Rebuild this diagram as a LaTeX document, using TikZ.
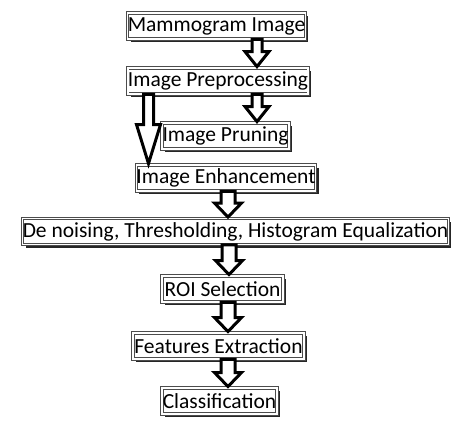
\documentclass[tikz,border=0pt]{standalone}
\usepackage{fontspec}
\setmainfont{Carlito}
\usetikzlibrary{calc,shadows}
\tikzset{
  stepbox/.style={draw=black!70, double=white, double distance=1.3pt, line width=0.9pt,
    fill=white, inner sep=0pt, minimum height=26pt, font=\fontsize{21.5pt}{23pt}\selectfont,
    drop shadow={shadow xshift=3pt, shadow yshift=-3pt, opacity=1, fill=black!85}},
  blkarrow/.style={draw=black, line width=3pt, fill=white, line join=miter}
}
% #1 x centre, #2 from node, #3 to node, #4 shaft half, #5 head half, #6 head length
\newcommand\blkarr[6]{%
  \draw[blkarrow] let \p1=(#2.south), \p2=(#3.north) in
    ({#1pt-#4pt},{\y1}) -- ({#1pt-#4pt},{\y2+#6pt}) -- ({#1pt-#5pt},{\y2+#6pt}) --
    ({#1pt},{\y2+1pt}) -- ({#1pt+#5pt},{\y2+#6pt}) -- ({#1pt+#4pt},{\y2+#6pt}) --
    ({#1pt+#4pt},{\y1}) -- cycle;
}
\begin{document}
\begin{tikzpicture}[x=1pt,y=-1pt]
\useasboundingbox (0,0) rectangle (474,434);
\node[stepbox, minimum width=177pt] (b1) at (216.5,26) {Mammogram Image};
\node[stepbox, minimum width=180pt] (b2) at (218,81) {Image Preprocessing};
\node[stepbox, minimum width=127pt] (b3) at (225.5,136) {Image Pruning};
\node[stepbox, minimum width=176pt] (b4) at (226,178) {Image Enhancement};
\node[stepbox, minimum width=425pt] (b5) at (235.5,231.5) {De noising, Thresholding, Histogram Equalization};
\node[stepbox, minimum width=121pt] (b6) at (222.5,289) {ROI Selection};
\node[stepbox, minimum width=171pt] (b7) at (218.5,346) {Features Extraction};
\node[stepbox, minimum width=115pt] (b8) at (219.5,401) {Classification};
\blkarr{257}{b1}{b2}{5}{12}{16}
\blkarr{257}{b2}{b3}{5}{12}{16}
\blkarr{148.5}{b2}{b4}{5}{12}{40}
\blkarr{228}{b4}{b5}{7}{13.5}{15}
\blkarr{229}{b5}{b6}{7}{13.5}{15}
\blkarr{228}{b6}{b7}{7}{13.5}{15}
\blkarr{228}{b7}{b8}{7}{13.5}{15}
\end{tikzpicture}
\end{document}
